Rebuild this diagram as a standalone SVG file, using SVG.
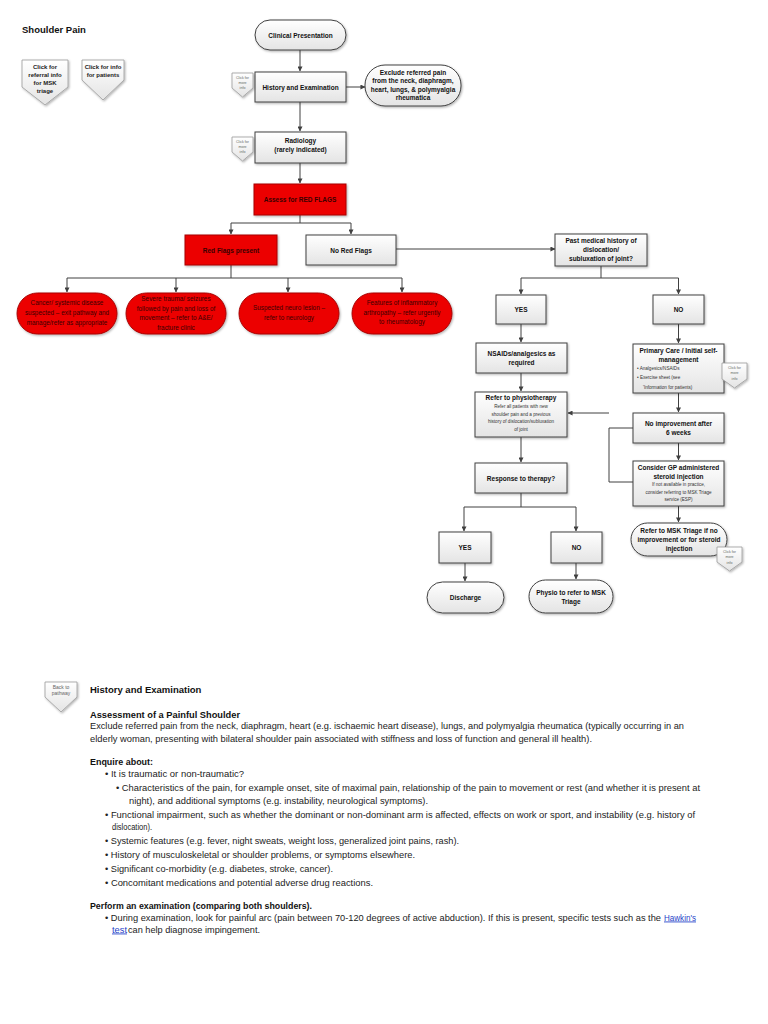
<svg xmlns="http://www.w3.org/2000/svg" width="768" height="1024" viewBox="0 0 768 1024">
<style>
text{font-family:"Liberation Sans",Arial,sans-serif;fill:#111}
.b{font-weight:bold}
.lbl{font-size:6.5px;font-weight:bold;text-anchor:middle}
.rl{font-size:6.4px;text-anchor:middle;fill:#3a0000}
.sm{font-size:4.6px;text-anchor:middle;fill:#333}
.bul{font-size:4.6px;fill:#333}
.ic{font-size:3.6px;text-anchor:middle;fill:#666}
.bic{font-size:6px;font-weight:bold;text-anchor:middle;fill:#222}
.box{fill:url(#g);stroke:#404040;stroke-width:1;filter:url(#sh)}
.red{fill:#ec0000;stroke:#a80000;stroke-width:1;filter:url(#sh)}
.icon{fill:url(#g);stroke:#9a9a9a;stroke-width:0.8;filter:url(#sh)}
.ln{fill:none;stroke:#404040;stroke-width:1}
.ar{marker-end:url(#ah)}
.p{font-size:8.6px;fill:#222}
.ph{font-size:9px;font-weight:bold;fill:#111}
.lk{fill:#1f3fc8;text-decoration:underline}
</style>
<defs>
<linearGradient id="g" x1="0" y1="0" x2="0" y2="1"><stop offset="0" stop-color="#ffffff"/><stop offset="1" stop-color="#e4e4e4"/></linearGradient>
<filter id="sh" x="-20%" y="-20%" width="140%" height="150%"><feDropShadow dx="1" dy="1.2" stdDeviation="0.8" flood-color="#000" flood-opacity="0.3"/></filter>
<marker id="ah" viewBox="0 0 6 6" refX="5.5" refY="3" markerWidth="5" markerHeight="5" orient="auto" markerUnits="userSpaceOnUse"><path d="M0,0 L6,3 L0,6 Z" fill="#404040"/></marker>
</defs>
<rect width="768" height="1024" fill="#fff"/>
<text x="22" y="33" class="b" style="font-size:9.5px">Shoulder Pain</text>

<g id="icon-msk"><path class="icon" d="M22,60 H68 V87 L45,105 L22,87 Z"/><text class="bic" x="45" y="69">Click for</text><text class="bic" x="45" y="77">referral info</text><text class="bic" x="45" y="85">for MSK</text><text class="bic" x="45" y="93">triage</text></g>
<g id="icon-patients"><path class="icon" d="M82,60 H124 V80 L103,100 L82,80 Z"/><text class="bic" x="103" y="69">Click for info</text><text class="bic" x="103" y="77">for patients</text></g>

<g id="connectors">
<path class="ln ar" d="M300,50 V71"/>
<path class="ln ar" d="M346,87 H365"/>
<path class="ln ar" d="M300,102 V131"/>
<path class="ln ar" d="M300,163 V183"/>
<path class="ln" d="M300,215 V223 H231"/><path class="ln ar" d="M231,223 V234"/>
<path class="ln ar" d="M300,223 H351 V234"/>
<path class="ln" d="M231,265 V278 H67"/><path class="ln ar" d="M67,278 V292"/>
<path class="ln ar" d="M176,278 V292"/>
<path class="ln" d="M231,278 H402"/><path class="ln ar" d="M288,278 V292"/><path class="ln ar" d="M402,278 V292"/>
<path class="ln ar" d="M396,249 H555"/>
<path class="ln" d="M601,266 V278 H521"/><path class="ln ar" d="M521,278 V294"/><path class="ln ar" d="M601,278 H678.5 V294"/>
<path class="ln ar" d="M521,324 V342"/>
<path class="ln ar" d="M678.5,324 V343"/>
<path class="ln ar" d="M521,373 V391"/>
<path class="ln ar" d="M678.5,393 V412"/>
<path class="ln" d="M633,428 H609 V482 H633"/><path class="ln ar" d="M609,413 H568"/>
<path class="ln ar" d="M678.5,443 V460"/>
<path class="ln ar" d="M678.5,506 V522"/>
<path class="ln ar" d="M521,437 V462"/>
<path class="ln" d="M521,493 V507 H464"/><path class="ln ar" d="M464,507 V531"/><path class="ln ar" d="M521,507 H576 V531"/>
<path class="ln ar" d="M465,563 V581"/>
<path class="ln ar" d="M576,563 V579"/>
</g>

<g id="clinical"><rect class="box" x="255" y="20" width="91" height="30" rx="15"/><text class="lbl" x="300.5" y="37.5">Clinical Presentation</text></g>
<g id="history"><rect class="box" x="255" y="72" width="91" height="30"/><text class="lbl" x="300.5" y="89.5">History and Examination</text></g>
<g id="icon-hist"><path class="icon" d="M232,73 H253 V88 L242.5,97 L232,88 Z"/><text class="ic" x="242.5" y="79">Click for</text><text class="ic" x="242.5" y="84">more</text><text class="ic" x="242.5" y="89">info</text></g>
<g id="exclude"><rect class="box" x="365" y="65" width="96" height="41" rx="20"/><text class="lbl" x="413" y="74.5">Exclude referred pain</text><text class="lbl" x="413" y="83">from the neck, diaphragm,</text><text class="lbl" x="413" y="91.5">heart, lungs, &amp; polymyalgia</text><text class="lbl" x="413" y="100">rheumatica</text></g>
<g id="radiology"><rect class="box" x="255" y="132" width="91" height="31"/><text class="lbl" x="300.5" y="143">Radiology</text><text class="lbl" x="300.5" y="152">(rarely indicated)</text></g>
<g id="icon-rad"><path class="icon" d="M232,137 H253 V152 L242.5,161 L232,152 Z"/><text class="ic" x="242.5" y="143">Click for</text><text class="ic" x="242.5" y="148">more</text><text class="ic" x="242.5" y="153">info</text></g>
<g id="assess"><rect class="red" x="254" y="184" width="92" height="31"/><text class="lbl" x="300" y="202" style="fill:#3a0000">Assess for RED FLAGS</text></g>
<g id="redflags"><rect class="red" x="185" y="235" width="92" height="30"/><text class="lbl" x="231" y="252.5" style="fill:#3a0000">Red Flags present</text></g>
<g id="noredflags"><rect class="box" x="306" y="235" width="90" height="30"/><text class="lbl" x="351" y="252.5">No Red Flags</text></g>
<g id="cancer"><rect class="red" x="17" y="293" width="100" height="41" rx="20.5"/><text class="rl" x="67" y="305">Cancer/ systemic disease</text><text class="rl" x="67" y="315">suspected –  exit pathway and</text><text class="rl" x="67" y="325">manage/refer as appropriate</text></g>
<g id="trauma"><rect class="red" x="126" y="293" width="100" height="41" rx="20.5"/><text class="rl" x="176" y="301">Severe trauma/ seizures</text><text class="rl" x="176" y="310.5">followed by pain and loss of</text><text class="rl" x="176" y="320">movement – refer to A&amp;E/</text><text class="rl" x="176" y="329.5">fracture clinic</text></g>
<g id="neuro"><rect class="red" x="239" y="293" width="100" height="41" rx="20.5"/><text class="rl" x="289" y="310">Suspected neuro lesion –</text><text class="rl" x="289" y="319.5">refer to neurology</text></g>
<g id="inflam"><rect class="red" x="352" y="293" width="100" height="41" rx="20.5"/><text class="rl" x="402" y="305">Features of inflammatory</text><text class="rl" x="402" y="314.5">arthropathy – refer urgently</text><text class="rl" x="402" y="324">to rheumatology</text></g>
<g id="pmh"><rect class="box" x="555" y="234" width="92" height="32"/><text class="lbl" x="601" y="242.5">Past medical history of</text><text class="lbl" x="601" y="251.5">dislocation/</text><text class="lbl" x="601" y="261">subluxation of joint?</text></g>
<g id="yes1"><rect class="box" x="496" y="295" width="50" height="29"/><text class="lbl" x="521" y="312">YES</text></g>
<g id="no1"><rect class="box" x="653" y="295" width="51" height="29"/><text class="lbl" x="678.5" y="312">NO</text></g>
<g id="nsaids"><rect class="box" x="476" y="343" width="91" height="30"/><text class="lbl" x="521.5" y="355.5">NSAIDs/analgesics as</text><text class="lbl" x="521.5" y="364.5">required</text></g>
<g id="primary"><rect class="box" x="633" y="344" width="91" height="49"/><text class="lbl" x="678.5" y="352.5">Primary Care / Initial self-</text><text class="lbl" x="678.5" y="361.5">management</text><text class="bul" x="637" y="370">• Analgesics/NSAIDs</text><text class="bul" x="637" y="379">• Exercise sheet (see</text><text class="bul" x="643" y="388.5">'Information for patients)</text></g>
<g id="icon-primary"><path class="icon" d="M722,363 H747 V379 L734.5,388 L722,379 Z"/><text class="ic" x="734.5" y="369">Click for</text><text class="ic" x="734.5" y="374">more</text><text class="ic" x="734.5" y="379.5">info</text></g>
<g id="physio"><rect class="box" x="475" y="392" width="92" height="45"/><text class="lbl" x="521" y="400">Refer to physiotherapy</text><text class="sm" x="521" y="408">Refer all patients with new</text><text class="sm" x="521" y="415.5">shoulder pain and a previous</text><text class="sm" x="521" y="423">history of dislocation/subluxation</text><text class="sm" x="521" y="430.5">of joint</text></g>
<g id="noimprove"><rect class="box" x="633" y="413" width="91" height="30"/><text class="lbl" x="678.5" y="425.5">No improvement after</text><text class="lbl" x="678.5" y="434.5">6 weeks</text></g>
<g id="steroid"><rect class="box" x="633" y="461" width="91" height="45"/><text class="lbl" x="678.5" y="469.5">Consider GP administered</text><text class="lbl" x="678.5" y="478.5">steroid injection</text><text class="sm" x="678.5" y="486">If not available in practice,</text><text class="sm" x="678.5" y="493.5">consider referring to MSK Triage</text><text class="sm" x="678.5" y="501">service (ESP)</text></g>
<g id="msktriage"><rect class="box" x="631" y="523" width="96" height="33" rx="16.5"/><text class="lbl" x="679" y="532.5">Refer to MSK Triage if no</text><text class="lbl" x="679" y="541.5">improvement or for steroid</text><text class="lbl" x="679" y="551">injection</text></g>
<g id="icon-msk2"><path class="icon" d="M717,547 H742 V562 L729.5,571 L717,562 Z"/><text class="ic" x="729.5" y="553">Click for</text><text class="ic" x="729.5" y="558">more</text><text class="ic" x="729.5" y="563.5">info</text></g>
<g id="response"><rect class="box" x="475" y="463" width="92" height="30"/><text class="lbl" x="521" y="480.5">Response to therapy?</text></g>
<g id="yes2"><rect class="box" x="439" y="532" width="52" height="31"/><text class="lbl" x="465" y="550">YES</text></g>
<g id="no2"><rect class="box" x="551" y="532" width="51" height="31"/><text class="lbl" x="576.5" y="550">NO</text></g>
<g id="discharge"><rect class="box" x="427" y="582" width="77" height="31" rx="15.5"/><text class="lbl" x="465.5" y="599.5">Discharge</text></g>
<g id="physiomsk"><rect class="box" x="529" y="580" width="84" height="33" rx="16.5"/><text class="lbl" x="571" y="594.5">Physio to refer to MSK</text><text class="lbl" x="571" y="604">Triage</text></g>

<g id="back"><path class="icon" d="M45,682 H77 V697 L61,712 L45,697 Z"/><text class="ic" style="font-size:5px" x="61" y="689">Back to</text><text class="ic" style="font-size:5px" x="61" y="695">pathway</text></g>
<g id="notes">
<text class="ph" x="90" y="692.5" style="font-size:9.5px">History and Examination</text>
<text class="ph" x="90" y="717.5" textLength="150" lengthAdjust="spacingAndGlyphs">Assessment of a Painful Shoulder</text>
<text class="p" x="90" y="729" textLength="594" lengthAdjust="spacingAndGlyphs">Exclude referred pain from the neck, diaphragm, heart (e.g. ischaemic heart disease), lungs, and polymyalgia rheumatica (typically occurring in an</text>
<text class="p" x="90" y="741.5" textLength="502" lengthAdjust="spacingAndGlyphs">elderly woman, presenting with bilateral shoulder pain associated with stiffness and loss of function and general ill health).</text>
<text class="ph" x="90" y="765" textLength="63" lengthAdjust="spacingAndGlyphs">Enquire about:</text>
<text class="p" x="105" y="777" textLength="139" lengthAdjust="spacingAndGlyphs">• It is traumatic or non-traumatic?</text>
<text class="p" x="116" y="791" textLength="584" lengthAdjust="spacingAndGlyphs">•  Characteristics of the pain, for example onset, site of maximal pain, relationship of the pain to movement or rest (and whether it is present at</text>
<text class="p" x="129" y="803.5" textLength="299" lengthAdjust="spacingAndGlyphs">night), and additional symptoms (e.g. instability, neurological symptoms).</text>
<text class="p" x="105" y="818" textLength="590" lengthAdjust="spacingAndGlyphs">• Functional impairment, such as whether the dominant or non-dominant arm is affected, effects on work or sport, and instability (e.g. history of</text>
<text class="p" x="112" y="830" textLength="40" lengthAdjust="spacingAndGlyphs">dislocation).</text>
<text class="p" x="105" y="844" textLength="354" lengthAdjust="spacingAndGlyphs">• Systemic features (e.g. fever, night sweats, weight loss, generalized joint pains, rash).</text>
<text class="p" x="105" y="857.5" textLength="310" lengthAdjust="spacingAndGlyphs">• History of musculoskeletal or shoulder problems, or symptoms elsewhere.</text>
<text class="p" x="105" y="871.5" textLength="228" lengthAdjust="spacingAndGlyphs">• Significant co-morbidity (e.g. diabetes, stroke, cancer).</text>
<text class="p" x="105" y="885.5" textLength="268" lengthAdjust="spacingAndGlyphs">• Concomitant medications and potential adverse drug reactions.</text>
<text class="ph" x="90" y="909" textLength="222" lengthAdjust="spacingAndGlyphs">Perform an examination (comparing both shoulders).</text>
<text class="p" x="105" y="920.5" textLength="556" lengthAdjust="spacingAndGlyphs">• During examination, look for painful arc (pain between 70-120 degrees of active abduction). If this is present, specific tests such as the</text>
<text class="p lk" x="664" y="920.5" textLength="32" lengthAdjust="spacingAndGlyphs">Hawkin's</text>
<text class="p lk" x="112" y="932.5" textLength="15" lengthAdjust="spacingAndGlyphs">test</text>
<text class="p" x="128" y="932.5" textLength="132" lengthAdjust="spacingAndGlyphs">can help diagnose impingement.</text>
</g>
</svg>
